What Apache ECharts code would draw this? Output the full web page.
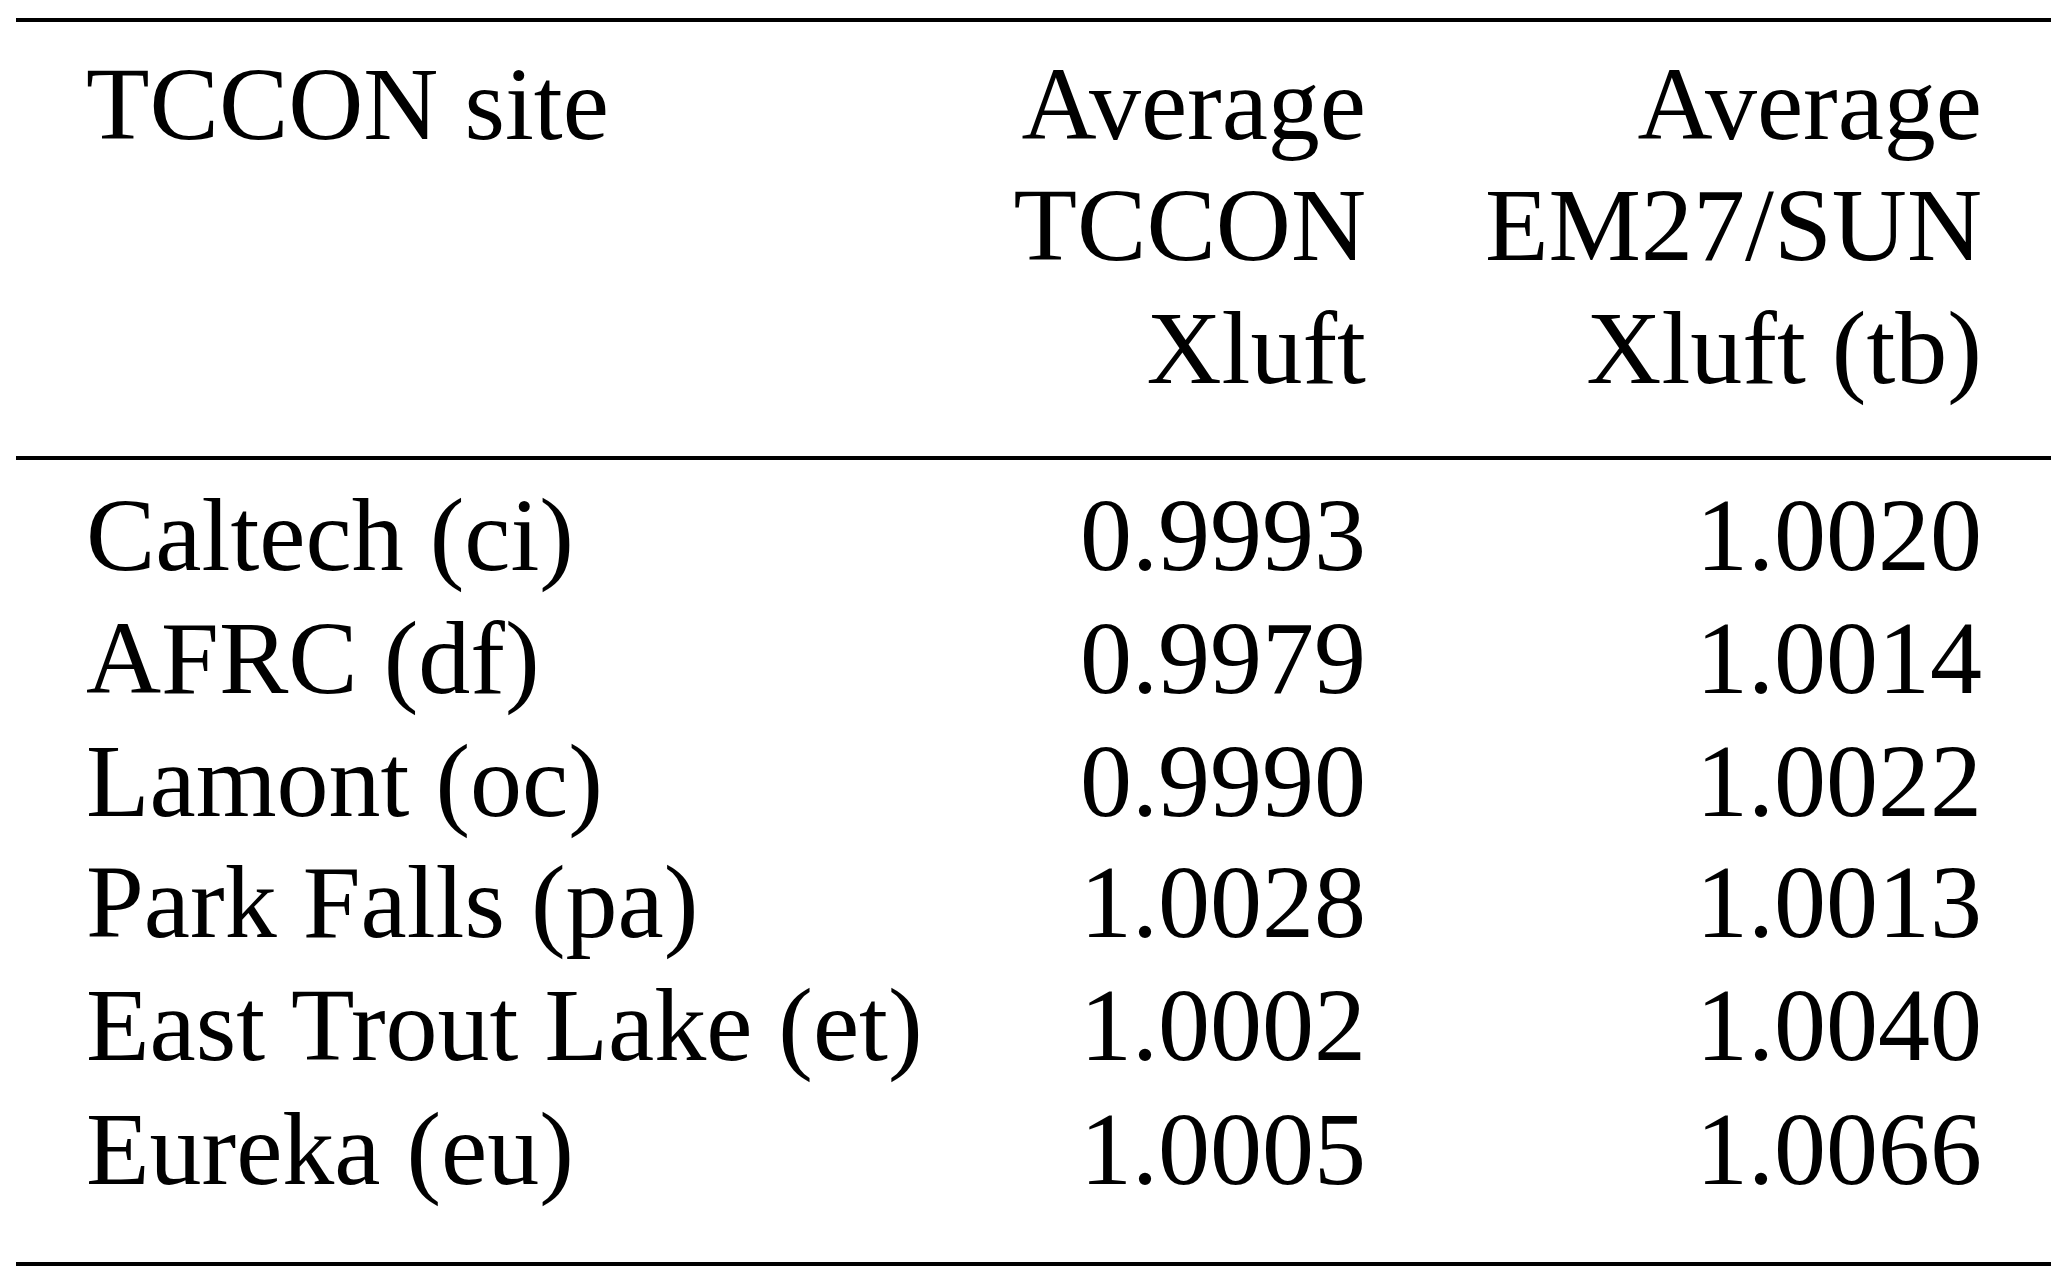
<!DOCTYPE html>
<html><head><meta charset="utf-8">
<script src="https://cdn.jsdelivr.net/npm/echarts@6/dist/echarts.min.js"></script>
<style>html,body{margin:0;padding:0;background:#fff}#chart{width:2067px;height:1282px}</style>
</head><body><div id="chart"></div>
<script>
const headers = [
  ['TCCON site'],
  ['Average', 'TCCON', 'Xluft'],
  ['Average', 'EM27/SUN', 'Xluft (tb)']
];
const sites = ['Caltech (ci)', 'AFRC (df)', 'Lamont (oc)', 'Park Falls (pa)', 'East Trout Lake (et)', 'Eureka (eu)'];
const tcconXluft = ['0.9993', '0.9979', '0.9990', '1.0028', '1.0002', '1.0005'];
const em27Xluft = ['1.0020', '1.0014', '1.0022', '1.0013', '1.0040', '1.0066'];

const font = '104px "Liberation Serif", "DejaVu Serif", serif';
const headerY = [112, 233, 356];
const rowY = [543, 666, 789, 910, 1033, 1157];
const colX = [86, 1366, 1982];
const elements = [];
function txt(s, x, y, align) {
  elements.push({ type: 'text', x: x, y: y,
    style: { text: s, font: font, fill: '#000', align: align, verticalAlign: 'middle' } });
}
function rule(y) {
  elements.push({ type: 'line', shape: { x1: 16, y1: y, x2: 2051, y2: y },
    style: { stroke: '#000', lineWidth: 4 } });
}
headers.forEach((lines, c) => lines.forEach((l, i) =>
  txt(l, colX[c], headerY[i], c === 0 ? 'left' : 'right')));
sites.forEach((s, i) => {
  txt(s, colX[0], rowY[i], 'left');
  txt(tcconXluft[i], colX[1], rowY[i], 'right');
  txt(em27Xluft[i], colX[2], rowY[i], 'right');
});
rule(20); rule(458); rule(1264);

const chart = echarts.init(document.getElementById('chart'));
chart.setOption({ animation: false, graphic: { elements: elements } });
</script></body></html>
